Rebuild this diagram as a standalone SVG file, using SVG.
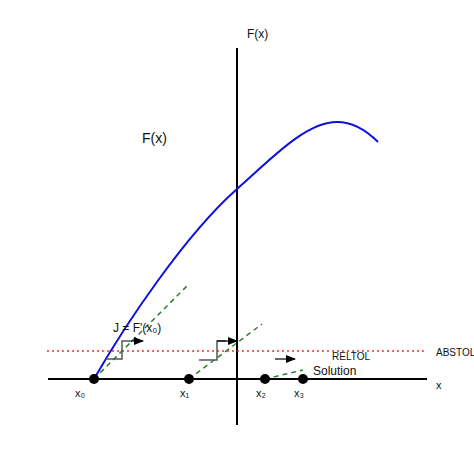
<svg xmlns="http://www.w3.org/2000/svg" width="474" height="474" viewBox="0 0 474 474">
<style>
text{font-family:"Liberation Sans",Arial,sans-serif;fill:#111}
.axis{stroke:#000;stroke-width:2;fill:none}
.tan{stroke:#2e7d32;stroke-width:1.5;stroke-dasharray:5,4;fill:none}
.step{stroke:#555;stroke-width:1.5;fill:none}
.arr{stroke:#000;stroke-width:1.2;fill:none}
.pt{fill:#000}
</style>
<defs>
<marker id="ah" markerWidth="10" markerHeight="8" refX="9" refY="4" orient="auto" markerUnits="userSpaceOnUse">
<path d="M0,0 L10,4 L0,8 Z" fill="#000"/>
</marker>
</defs>
<rect width="474" height="474" fill="#fff"/>
<g id="axes">
<line class="axis" x1="48" y1="379" x2="427" y2="379"/>
<line class="axis" x1="237" y1="48" x2="237" y2="425"/>
<text x="247" y="38" font-size="12">F(x)</text>
<text x="436" y="389" font-size="11">x</text>
</g>
<g id="tolerances">
<line x1="47" y1="351" x2="427" y2="351" stroke="#ee3333" stroke-width="1.5" stroke-dasharray="2,3"/>
<text x="436" y="356" font-size="10">ABSTOL</text>
<text x="332" y="360" font-size="10">RELTOL</text>
</g>
<g id="curve">
<path d="M94,379 C125,325 185,235 237,189 C270,160 305,122 337,122 C355,122 368,132 378,142" stroke="#1010dd" stroke-width="2" fill="none"/>
<text x="142" y="143" font-size="14">F(x)</text>
</g>
<g id="connectors">
<line class="tan" x1="94" y1="379" x2="189" y2="284"/>
<line class="tan" x1="189" y1="379" x2="262" y2="324"/>
<line class="tan" x1="265" y1="379" x2="303" y2="370"/>
<path class="step" d="M106,359 H122 V341 H132"/>
<line class="arr" x1="131" y1="341" x2="143" y2="341" marker-end="url(#ah)"/>
<path class="step" d="M199,360 H217 V341 H226"/>
<line class="arr" x1="217" y1="341" x2="237" y2="341" marker-end="url(#ah)"/>
<line class="arr" x1="275" y1="359" x2="295" y2="359" marker-end="url(#ah)"/>
</g>
<g id="x0"><circle class="pt" cx="94" cy="379" r="5"/><text x="75" y="397" font-size="11">x₀</text></g>
<g id="x1"><circle class="pt" cx="189" cy="379" r="5"/><text x="180" y="397" font-size="11">x₁</text></g>
<g id="x2"><circle class="pt" cx="265" cy="379" r="5"/><text x="256" y="397" font-size="11">x₂</text></g>
<g id="x3"><circle class="pt" cx="303" cy="379" r="5"/><text x="294" y="397" font-size="11">x₃</text></g>
<g id="labels">
<text x="113" y="332" font-size="12">J = F'(x₀)</text>
<text x="313" y="375" font-size="12">Solution</text>
</g>
</svg>
